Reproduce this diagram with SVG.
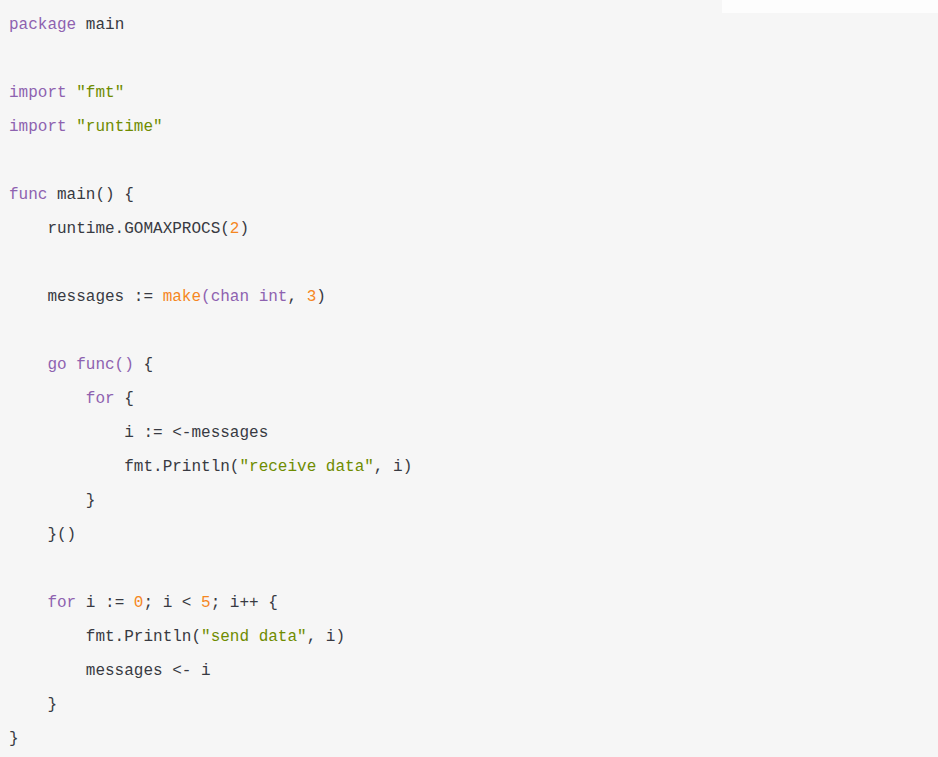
<svg xmlns="http://www.w3.org/2000/svg" width="938" height="757" viewBox="0 0 938 757">
<style>
text{font-family:"Liberation Mono","DejaVu Sans Mono",monospace;font-size:16px;fill:#383a42;white-space:pre}
.k{fill:#8e62b0}.s{fill:#6f8c00}.n{fill:#f5871f}
</style>
<rect width="938" height="757" fill="#f6f6f6"/>
<rect x="722" y="0" width="216" height="13" fill="#fdfdfd"/>
<g id="code">
<text x="9" y="29"><tspan class="k">package</tspan> main</text>
<text x="9" y="97"><tspan class="k">import</tspan> <tspan class="s">"fmt"</tspan></text>
<text x="9" y="131"><tspan class="k">import</tspan> <tspan class="s">"runtime"</tspan></text>
<text x="9" y="199"><tspan class="k">func</tspan> main() {</text>
<text x="9" y="233">    runtime.GOMAXPROCS(<tspan class="n">2</tspan>)</text>
<text x="9" y="301">    messages := <tspan class="n">make</tspan><tspan class="k">(chan int</tspan>, <tspan class="n">3</tspan>)</text>
<text x="9" y="369">    <tspan class="k">go func()</tspan> {</text>
<text x="9" y="403">        <tspan class="k">for</tspan> {</text>
<text x="9" y="437">            i := &lt;-messages</text>
<text x="9" y="471">            fmt.Println(<tspan class="s">"receive data"</tspan>, i)</text>
<text x="9" y="505">        }</text>
<text x="9" y="539">    }()</text>
<text x="9" y="607">    <tspan class="k">for</tspan> i := <tspan class="n">0</tspan>; i &lt; <tspan class="n">5</tspan>; i++ {</text>
<text x="9" y="641">        fmt.Println(<tspan class="s">"send data"</tspan>, i)</text>
<text x="9" y="675">        messages &lt;- i</text>
<text x="9" y="709">    }</text>
<text x="9" y="743">}</text>
</g>
</svg>
